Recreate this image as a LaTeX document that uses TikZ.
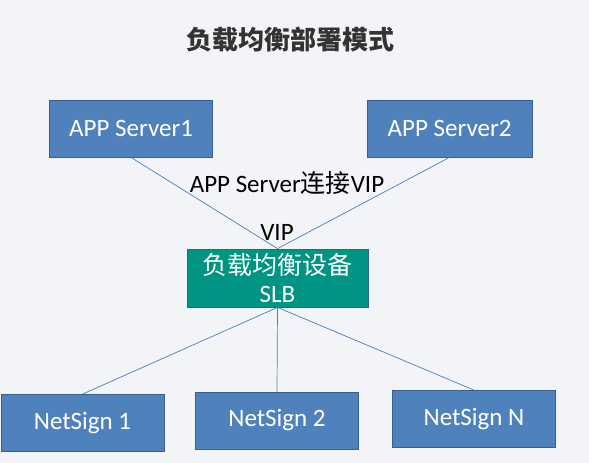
\documentclass[tikz,border=0pt]{standalone}
\usepackage{fontspec}
\setmainfont{Carlito}
\newfontfamily\cjk{Noto Sans CJK SC}
\usepackage{tikz}
\usetikzlibrary{positioning}
\usepackage{xcolor}

\definecolor{boxblue}{HTML}{4F81BD}
\definecolor{boxedge}{HTML}{3A5F8F}
\definecolor{slbteal}{HTML}{009483}
\definecolor{linkblue}{HTML}{4A7EBB}
\definecolor{bggrey}{HTML}{F3F4F7}
\definecolor{titlegrey}{HTML}{333333}

\tikzset{
    server/.style={fill=boxblue, draw=boxedge, line width=0.8pt, text=white,
        minimum width=163pt, minimum height=57pt, inner sep=0pt,
        font=\fontsize{25}{30}\selectfont},
    balancer/.style={server, fill=slbteal, minimum width=181pt, minimum height=58pt,
        align=center},
    link/.style={draw=linkblue, line width=0.7pt},
    caption/.style={text=black, inner sep=0pt, font=\fontsize{25}{30}\selectfont}
}

\begin{document}
\begin{tikzpicture}[x=1pt, y=-1pt]

        % background
        \fill[bggrey] (0,0) rectangle (589,463);
        \useasboundingbox (0,0) rectangle (589,463);

        \node[text=titlegrey, font=\fontsize{26}{30}\selectfont\cjk\bfseries] (title) at (290,40) {负载均衡部署模式};

        \node[server] (srv1) at (131,128.5) {APP Server1};
        \node[server, minimum width=165pt] (srv2) at (449.5,128.5) {APP Server2};

        \node[balancer] (slb) at (277.5,278) {{\cjk 负载均衡设备}\\[-2pt]SLB};

        \node[server] (ns1) at (82.5,423) {NetSign 1};
        \node[server] (ns2) at (277,420.5) {NetSign 2};
        \node[server] (nsN) at (474,419) {NetSign N};

        \node[caption] (conn) at (287,183) {APP Server{\cjk 连接}VIP};
        \node[caption] (vip) at (277,232) {VIP};

        \draw[link] (srv1.south) -- (slb.north);
        \draw[link] (srv2.south) -- (slb.north);
        \draw[link] (slb.south) -- (ns1.north);
        \draw[link] (slb.south) -- (ns2.north);
        \draw[link] (slb.south) -- (nsN.north);

\end{tikzpicture}
\end{document}
